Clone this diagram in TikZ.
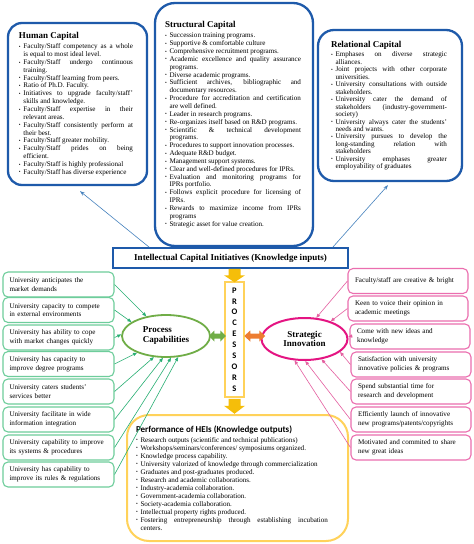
\documentclass[tikz,border=0pt]{standalone}
\usepackage{fontspec}
\setmainfont{Liberation Serif}
\newfontfamily\calib{Carlito}
\usetikzlibrary{shapes.geometric,arrows.meta}

\definecolor{capblue}{RGB}{30,90,170}
\definecolor{arrblue}{RGB}{70,130,190}
\definecolor{boxgreen}{RGB}{110,205,155}
\definecolor{arrgreen}{RGB}{40,175,115}
\definecolor{oliveC}{RGB}{112,173,71}
\definecolor{boxpink}{RGB}{235,110,175}
\definecolor{arrpink}{RGB}{228,95,160}
\definecolor{magentaC}{RGB}{228,20,130}
\definecolor{goldline}{RGB}{255,210,90}
\definecolor{goldfill}{RGB}{245,190,10}
\definecolor{orangeC}{RGB}{237,125,49}

\newcommand{\boxfont}{\fontsize{7.1}{8.6}\selectfont}
\newcommand{\listfont}[1]{\fontsize{7.1}{#1}\selectfont\hyphenpenalty=10000\exhyphenpenalty=10000}
\newcommand{\bitem}{\par\hangindent=4.5pt\hangafter=1\noindent\makebox[4.5pt][l]{\raisebox{0.4pt}{\fontsize{5}{5}\selectfont\textbullet}}}
\newcommand{\boxtitle}[1]{{\fontsize{9}{11}\selectfont\bfseries #1\par}\vspace{2.5pt}}

\begin{document}
\begin{tikzpicture}[x=1pt,y=-1pt,
  bluebox/.style={draw=capblue, line width=2.3pt, fill=white, inner sep=0pt},
  gbox/.style={draw=boxgreen, line width=1.1pt, rounded corners=5pt, minimum width=111pt, minimum height=25pt, text width=98pt, inner xsep=6.5pt, inner ysep=0pt, align=left, font=\boxfont},
  pbox/.style={draw=boxpink, line width=1.1pt, rounded corners=5pt, minimum width=120pt, minimum height=25pt, text width=106pt, inner xsep=7pt, inner ysep=0pt, align=left, font=\boxfont},
  garrow/.style={draw=arrgreen, line width=0.6pt, -{Triangle[length=4pt,width=3.2pt]}},
  parrow/.style={draw=arrpink, line width=0.6pt, -{Triangle[length=4pt,width=3.2pt]}},
  barrow/.style={draw=arrblue, line width=0.6pt, -{Stealth[length=5pt,width=3.6pt]}}
]
\fill[white] (0,0) rectangle (474,544);
\path[use as bounding box] (0,0) rectangle (474,544);

% Human capital
\node[bluebox, rounded corners=14pt, minimum width=139pt, minimum height=162pt] (human) at (77.5,104) {\hspace*{-3pt}\begin{minipage}{114pt}\listfont{7.85}
\boxtitle{Human Capital}
\bitem Faculty/Staff competency as a whole\linebreak is equal to most ideal level.
\bitem Faculty/Staff undergo continuous\linebreak training.
\bitem Faculty/Staff learning from peers.
\bitem Ratio of Ph.D. Faculty.
\bitem Initiatives to upgrade faculty/staff'\linebreak skills and knowledge.
\bitem Faculty/Staff expertise in their\linebreak relevant areas.
\bitem Faculty/Staff consistently perform at\linebreak their best.
\bitem Faculty/Staff greater mobility.
\bitem Faculty/Staff prides on being\linebreak efficient.
\bitem Faculty/Staff is highly professional
\bitem Faculty/Staff has diverse experience
\end{minipage}};

% Structural capital
\node[bluebox, rounded corners=20pt, minimum width=158pt, minimum height=243pt] (struct) at (234,124.5) {\hspace*{-2pt}\begin{minipage}{136pt}\listfont{7.85}
\boxtitle{Structural Capital}
\bitem Succession training programs.
\bitem Supportive \& comfortable culture
\bitem Comprehensive recruitment programs.
\bitem Academic excellence and quality assurance\linebreak programs.
\bitem Diverse academic programs.
\bitem Sufficient archives, bibliographic and\linebreak documentary resources.
\bitem Procedure for accreditation and certification\linebreak are well defined.
\bitem Leader in research programs.
\bitem Re-organizes itself based on R\&D programs.
\bitem Scientific \& technical development\linebreak programs.
\bitem Procedures to support innovation processes.
\bitem Adequate R\&D budget.
\bitem Management support systems.
\bitem Clear and well-defined procedures for IPRs.
\bitem Evaluation and monitoring programs for\linebreak IPRs portfolio.
\bitem Follows explicit procedure for licensing of\linebreak IPRs.
\bitem Rewards to maximize income from IPRs\linebreak programs
\bitem Strategic asset for value creation.
\end{minipage}};

% Relational capital
\node[bluebox, rounded corners=16pt, minimum width=144pt, minimum height=151pt] (rel) at (390,105.5) {\hspace*{-2pt}\begin{minipage}{116pt}\listfont{7.45}
\boxtitle{Relational Capital}
\bitem Emphases on diverse strategic\linebreak alliances.
\bitem Joint projects with other corporate\linebreak universities.
\bitem University consultations with outside\linebreak stakeholders.
\bitem University cater the demand of\linebreak stakeholders (industry-government-\linebreak society)
\bitem University always cater the students'\linebreak needs and wants.
\bitem University pursues to develop the\linebreak long-standing relation with\linebreak stakeholders
\bitem University emphases greater\linebreak employability of graduates
\end{minipage}};

% Intellectual capital initiatives
\node[draw=capblue, line width=1.5pt, fill=white, minimum width=235pt, minimum height=20pt, inner sep=0pt, font=\fontsize{9}{11}\selectfont\bfseries] (ic) at (230.5,258) {Intellectual Capital Initiatives (Knowledge inputs)};

% Processors
\node[draw=goldline, line width=1.5pt, minimum width=19pt, minimum height=115pt, inner sep=0pt, align=center, font=\calib\bfseries\fontsize{8.5}{10.9}\selectfont] (proc) at (234.5,339.5) {P\\R\\O\\C\\E\\S\\S\\O\\R\\S};

% Performance
\node[draw=goldline, line width=2pt, rounded corners=22pt, minimum width=221pt, minimum height=126pt, inner sep=0pt] (perf) at (237.5,478) {\hspace*{-11pt}\begin{minipage}{192pt}\listfont{8.0}
{\calib\bfseries\fontsize{9}{11}\selectfont Performance of HEIs (Knowledge outputs)\par}\vspace{2pt}
\bitem Research outputs (scientific and technical publications)
\bitem Workshops/seminars/conferences/ symposiums organized.
\bitem Knowledge process capability.
\bitem University valorized of knowledge through commercialization
\bitem Graduates and post-graduates produced.
\bitem Research and academic collaborations.
\bitem Industry-academia collaboration.
\bitem Government-academia collaboration.
\bitem Society-academia collaboration.
\bitem Intellectual property rights produced.
\bitem Fostering entrepreneurship through establishing incubation\linebreak centers.
\end{minipage}};

% Ellipses
\node[ellipse, draw=oliveC, line width=1.8pt, minimum width=88pt, minimum height=42pt, inner sep=0pt, align=left, font=\fontsize{9}{10}\selectfont\bfseries] (pc) at (166,336) {Process\\Capabilities};
\node[ellipse, draw=magentaC, line width=2pt, minimum width=86pt, minimum height=42pt, inner sep=0pt, align=center, font=\fontsize{9}{9.5}\selectfont\bfseries] (si) at (304.5,339) {Strategic\\Innovation};

% Left boxes
\node[gbox] (l1) at (58.5,284.5) {University anticipates the\\market demands};
\node[gbox] (l2) at (58.5,310) {University capacity to compete\\in external environments};
\node[gbox] (l3) at (58.5,337.5) {University has ability to cope\\with market changes quickly};
\node[gbox] (l4) at (58.5,364) {University has capacity to\\improve degree programs};
\node[gbox] (l5) at (58.5,391.5) {University caters students'\\services better};
\node[gbox] (l6) at (58.5,419.5) {University facilitate in wide\\information integration};
\node[gbox] (l7) at (58.5,447.5) {University capability to improve\\its systems \& procedures};
\node[gbox] (l8) at (58.5,474.5) {University has capability to\\improve its rules \& regulations};

% Right boxes
\node[pbox] (r1) at (408,281) {Faculty/staff are creative \& bright};
\node[pbox] (r2) at (408,308.5) {Keen to voice their opinion in\\academic meetings};
\node[pbox] (r3) at (410,336.5) {Come with new ideas and\\knowledge};
\node[pbox] (r4) at (411,364.5) {Satisfaction with university\\innovative policies \& programs};
\node[pbox] (r5) at (411,391.5) {Spend substantial time for\\research and development};
\node[pbox] (r6) at (411,419.5) {Efficiently launch of innovative\\new programs/patents/copyrights};
\node[pbox] (r7) at (411,447.5) {Motivated and commited to share\\new great ideas};

% Blue arrows
\draw[barrow] ([xshift=37pt]ic.north west) -- ([xshift=2.5pt,yshift=-5pt]human.south);
\draw[barrow] ([xshift=-16pt]ic.north east) -- ([xshift=-2pt,yshift=-3pt]rel.south);

% Green arrows
\draw[garrow] (l1.east) -- (pc.135);
\draw[garrow] (l2.east) -- (pc.158);
\draw[garrow] (l3.east) -- (pc.178);
\draw[garrow] (l4.east) -- (pc.210);
\draw[garrow] (l5.east) -- (pc.240);
\draw[garrow] (l6.east) -- (pc.262);
\draw[garrow] (l7.east) -- (pc.283);
\draw[garrow] (l8.east) -- (pc.300);

% Pink arrows
\draw[parrow] (r1.west) -- (si.61);
\draw[parrow] (r2.west) -- (si.34);
\draw[parrow] (r3.west) -- (si.3);
\draw[parrow] (r4.west) -- (si.-20);
\draw[parrow] (r5.west) -- (si.-50);
\draw[parrow] (r6.west) -- (si.-88);
\draw[parrow] (r7.west) -- (si.-115);

% Yellow block arrows
\fill[goldfill] (ic.south -| proc.north) ++(-6,0) -- ++(12,0) -- ++(0,6.5) -- ++(4.5,0) -- ++(-10.5,7) -- ++(-10.5,-7) -- ++(4.5,0) -- cycle;
\fill[goldfill] (proc.south) ++(-6,1) -- ++(12,0) -- ++(0,7) -- ++(4.5,0) -- ++(-10.5,8) -- ++(-10.5,-8) -- ++(4.5,0) -- cycle;

% Double arrows
\fill[oliveC] (pc.east) ++(-2,0) -- ++(5.5,-5.5) -- ++(0,3) -- ++(6,0) -- ++(0,-3) -- ++(5.5,5.5) -- ++(-5.5,5.5) -- ++(0,-3) -- ++(-6,0) -- ++(0,3) -- cycle;
\fill[orangeC] (proc.east |- pc.east) ++(-0.5,0) -- ++(6,-5.5) -- ++(0,3) -- ++(9,0) -- ++(0,-3) -- ++(6,5.5) -- ++(-6,5.5) -- ++(0,-3) -- ++(-9,0) -- ++(0,3) -- cycle;
\end{tikzpicture}
\end{document}
